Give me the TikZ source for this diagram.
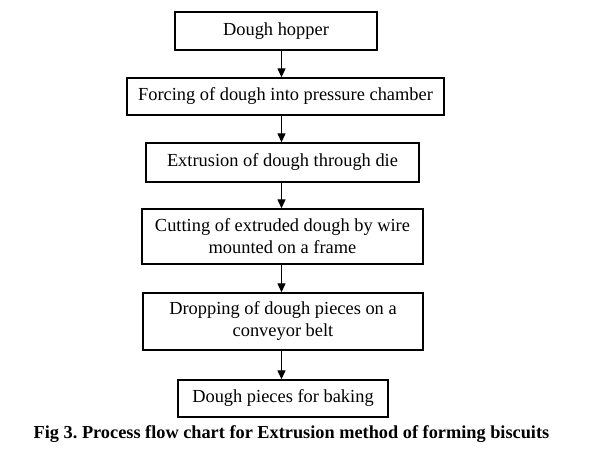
\documentclass[tikz,border=0pt]{standalone}
\usepackage{fontspec}
\setmainfont{Liberation Serif}
\usetikzlibrary{arrows.meta}
\frenchspacing
\begin{document}
\begin{tikzpicture}[x=1pt,y=-1pt,
  stepbox/.style={draw=black,line width=1.4pt,inner sep=0pt,align=center,
    font=\fontsize{18.4}{22}\selectfont},
  arr/.style={line width=1.3pt,-{Triangle[length=9pt,width=8pt]}}]
\useasboundingbox[fill=white] (0,0) rectangle (590,466);
\coordinate (ax) at (281.5,0);
\node[stepbox,minimum width=202pt,minimum height=38pt] (b1) at (276,31) {Dough hopper};
\node[stepbox,minimum width=317pt,minimum height=37pt] (b2) at (285.5,96.5) {Forcing of dough into pressure chamber};
\node[stepbox,minimum width=273pt,minimum height=39pt] (b3) at (282.5,162.5) {Extrusion of dough through die};
\node[stepbox,minimum width=281pt,minimum height=55pt] (b4) at (282.5,236.5) {Cutting of extruded dough by wire\\mounted on a frame};
\node[stepbox,minimum width=280pt,minimum height=57pt] (b5) at (283,321.5) {Dropping of dough pieces on a\\conveyor belt};
\node[stepbox,minimum width=210pt,minimum height=37pt] (b6) at (283,398.5) {Dough pieces for baking};
\draw[arr] (b1.south -| ax) -- (b2.north -| ax);
\draw[arr] (b2.south -| ax) -- (b3.north -| ax);
\draw[arr] (b3.south -| ax) -- (b4.north -| ax);
\draw[arr] (b4.south -| ax) -- (b5.north -| ax);
\draw[arr] (b5.south -| ax) -- (b6.north -| ax);
\node[font=\bfseries\fontsize{18.3}{20}\selectfont,inner sep=0pt] (cap) at (291.5,434) {Fig 3. Process flow chart for Extrusion method of forming biscuits};
\end{tikzpicture}
\end{document}
